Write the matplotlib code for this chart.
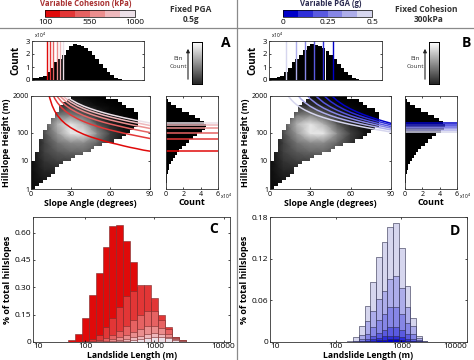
import numpy as np
import matplotlib
matplotlib.use('Agg')
import matplotlib.pyplot as plt
from matplotlib.colors import ListedColormap, LinearSegmentedColormap, Normalize
from matplotlib.colorbar import ColorbarBase
from matplotlib.lines import Line2D

plt.rcParams['font.family'] = ['Open Sans', 'DejaVu Sans']

nan = np.nan

# ---------------- data ----------------
cohesion = [100, 280, 460, 640, 820, 1000]
pga = [0.0, 0.1, 0.2, 0.3, 0.4, 0.5]
red_cols = ['#e00a0a', '#e23636', '#e66262', '#ea8e8e', '#eeb8bc', '#ece0e8']
blue_cols = ['#0000c8', '#2e2ed8', '#5a5ae0', '#8686e6', '#adadea', '#d6d6ee']

# slope histogram (3 degree bins, x 1e4)
slope_count = [0.12, 0.18, 0.25, 0.30, 0.60, 0.95, 1.35, 1.65, 1.95, 2.30,
               2.60, 2.78, 2.72, 2.60, 2.45, 2.20, 1.95, 1.60, 1.25, 0.90,
               0.60, 0.38, 0.18, 0.07, 0.02, 0.0, 0.0, 0.0, 0.0, 0.0]
# hillslope height histogram (0.11 log10 bins from 1 m, x 1e4)
height_count = [0.03, 0.05, 0.07, 0.10, 0.15, 0.22, 0.30, 0.40, 0.60, 0.80,
                1.00, 1.25, 1.55, 1.90, 2.30, 2.70, 3.10, 3.60, 4.10, 4.50,
                4.60, 4.40, 3.90, 3.30, 2.60, 1.80, 1.20, 0.60, 0.20, 0.0]

# 2D bin count (0 = few, 1 = many), nodes every 10 deg / 0.33 log10 m
grid_slope = [0, 10, 20, 30, 40, 50, 60, 70, 80, 90]
grid_logh = [0.0, 0.33, 0.66, 0.99, 1.32, 1.65, 1.98, 2.31, 2.64, 2.97, 3.3]
bin_count_grid = [
    [0.05, 0.05, 0.00, 0.00, 0.00, 0.00, 0.00, 0.00, 0.00, 0.00],
    [0.05, 0.10, 0.08, 0.00, 0.00, 0.00, 0.00, 0.00, 0.00, 0.00],
    [0.05, 0.15, 0.15, 0.10, 0.00, 0.00, 0.00, 0.00, 0.00, 0.00],
    [0.05, 0.20, 0.25, 0.25, 0.20, 0.10, 0.00, 0.00, 0.00, 0.00],
    [0.05, 0.25, 0.35, 0.40, 0.40, 0.30, 0.12, 0.04, 0.00, 0.00],
    [0.05, 0.25, 0.45, 0.55, 0.55, 0.40, 0.20, 0.06, 0.02, 0.00],
    [0.00, 0.30, 0.60, 0.90, 0.90, 0.55, 0.25, 0.10, 0.03, 0.00],
    [0.00, 0.30, 0.70, 0.90, 0.70, 0.35, 0.15, 0.05, 0.02, 0.00],
    [0.00, 0.15, 0.45, 0.50, 0.35, 0.15, 0.05, 0.02, 0.00, 0.00],
    [0.00, 0.05, 0.20, 0.20, 0.12, 0.05, 0.02, 0.00, 0.00, 0.00],
    [0.00, 0.00, 0.05, 0.05, 0.03, 0.00, 0.00, 0.00, 0.00, 0.00],
]
# occupied region per 3 degree column (log10 m)
region_low = [0.0, 0.1, 0.25, 0.35, 0.45, 0.6, 0.75, 0.85, 0.95, 1.0,
              1.1, 1.2, 1.25, 1.3, 1.35, 1.45, 1.5, 1.55, 1.6, 1.65,
              1.7, 1.75, 1.8, 1.85, 1.95, 2.05, 2.15, nan, nan, nan]
region_high = [0.95, 1.3, 1.75, 2.1, 2.35, 2.55, 2.8, 3.0, 3.1, 3.2,
               3.25, 3.25, 3.25, 3.25, 3.25, 3.25, 3.25, 3.25, 3.25, 3.2,
               3.2, 3.15, 3.1, 3.0, 2.9, 2.85, 2.75, nan, nan, nan]

# critical hillslope height curves (m)
curve_slope = [10, 12, 14, 16, 18, 20, 23, 26, 30, 35, 40, 45, 50, 55, 60, 65, 70, 75, 80, 85, 90]
curves_a = [
    [nan, 6200, 1800, 915, 576, 409, 277, 206, 151, 111, 87, 71, 60, 51, 44, 39, 34, 30, 27, 24, 22],
    [nan, 17500, 5080, 2580, 1620, 1150, 780, 580, 425, 314, 246, 200, 168, 143, 124, 109, 96, 86, 77, 69, 62],
    [nan, 28500, 8300, 4200, 2650, 1880, 1270, 944, 692, 511, 400, 326, 274, 233, 202, 178, 157, 139, 125, 112, 101],
    [nan, 39800, 11600, 5870, 3690, 2620, 1780, 1320, 966, 713, 558, 455, 382, 326, 282, 248, 219, 195, 174, 157, 141],
    [nan, 50800, 14800, 7490, 4720, 3350, 2270, 1680, 1230, 911, 713, 581, 488, 416, 360, 317, 279, 248, 223, 200, 180],
    [nan, 62000, 18000, 9150, 5760, 4090, 2770, 2060, 1510, 1110, 871, 711, 596, 508, 440, 387, 341, 304, 272, 244, 220],
]
curves_b = [
    [nan, nan, nan, nan, nan, nan, nan, nan, nan, 16100, 4528, 2221, 1359, 935, 692, 536, 430, 353, 295, 250, 214],
    [nan, nan, nan, nan, nan, nan, nan, 320000, 14400, 4142, 2070, 1286, 897, 671, 525, 425, 352, 297, 253, 219, 190],
    [nan, nan, nan, nan, nan, nan, 31000, 8688, 3575, 1828, 1157, 820, 621, 492, 402, 336, 286, 246, 214, 187, 165],
    [nan, nan, nan, nan, 24250, 9650, 4317, 2565, 1578, 1022, 738, 567, 455, 376, 318, 273, 237, 208, 183, 163, 145],
    [nan, 35200, 10260, 5200, 3285, 2324, 1574, 1169, 856, 632, 496, 404, 338, 289, 250, 220, 194, 173, 155, 139, 125],
    [4370, 2675, 1884, 1438, 1156, 962, 765, 633, 512, 410, 341, 290, 251, 220, 195, 174, 156, 141, 127, 116, 105],
]
crit_slope_a = [11.8, 14.5, 17.2, 19.9, 22.5, 25.2]
crit_slope_b = [50.9, 43.4, 35.9, 28.7, 21.3, 13.6]

# landslide length distributions (% of total hillslopes)
len_c = [
    [0.013, 0.044, 0.13, 0.26, 0.38, 0.52, 0.635, 0.64, 0.555, 0.44, 0.30, 0.22, 0.14, 0.07, 0.03, 0.01, 0.0],
    [0.0, 0.0, 0.005, 0.015, 0.04, 0.08, 0.13, 0.19, 0.25, 0.28, 0.31, 0.31, 0.24, 0.15, 0.08, 0.03, 0.01],
    [0.0, 0.0, 0.0, 0.003, 0.01, 0.02, 0.04, 0.06, 0.09, 0.12, 0.15, 0.17, 0.17, 0.12, 0.07, 0.03, 0.01],
    [0.0, 0.0, 0.0, 0.0, 0.003, 0.008, 0.015, 0.025, 0.04, 0.055, 0.07, 0.085, 0.09, 0.075, 0.045, 0.02, 0.006],
    [0.0, 0.0, 0.0, 0.0, 0.0, 0.002, 0.005, 0.01, 0.017, 0.025, 0.035, 0.045, 0.05, 0.045, 0.03, 0.014, 0.004],
    [0.0, 0.0, 0.0, 0.0, 0.0, 0.0, 0.002, 0.004, 0.008, 0.012, 0.018, 0.024, 0.028, 0.03, 0.022, 0.012, 0.004],
]
len_d = [  # PGA 0.5 ... 0
    [0.002, 0.007, 0.023, 0.052, 0.087, 0.123, 0.144, 0.165, 0.171, 0.136, 0.081, 0.034, 0.009, 0.002],
    [0.0, 0.002, 0.01, 0.03, 0.045, 0.062, 0.074, 0.091, 0.095, 0.078, 0.05, 0.023, 0.006, 0.001],
    [0.0, 0.001, 0.004, 0.012, 0.022, 0.032, 0.04, 0.05, 0.05, 0.041, 0.027, 0.011, 0.003, 0.0],
    [0.0, 0.0, 0.002, 0.005, 0.009, 0.013, 0.017, 0.021, 0.021, 0.017, 0.011, 0.005, 0.001, 0.0],
    [0.0, 0.0, 0.001, 0.002, 0.004, 0.006, 0.008, 0.009, 0.009, 0.007, 0.005, 0.002, 0.001, 0.0],
    [0.0, 0.0, 0.0, 0.001, 0.002, 0.003, 0.0035, 0.004, 0.004, 0.003, 0.002, 0.001, 0.0, 0.0],
]

# ---------------- layout helpers ----------------
W, H = 474, 360
fig = plt.figure(figsize=(W / 100, H / 100), dpi=100)


def px_axes(x0, y0, x1, y1):
    return fig.add_axes([x0 / W, 1 - y1 / H, (x1 - x0) / W, (y1 - y0) / H])


def ftext(x, y, s, **kw):
    fig.text(x / W, 1 - y / H, s, ha=kw.pop('ha', 'center'), va=kw.pop('va', 'center'), **kw)


def style(ax, size=5):
    for sp in ax.spines.values():
        sp.set_linewidth(0.6)
        sp.set_color('#333333')
    ax.tick_params(direction='in', length=1.5, width=0.5, labelsize=size, pad=1.5,
                   top=True, right=True)


def fline(xs, ys):
    fig.add_artist(Line2D([x / W for x in xs], [1 - y / H for y in ys],
                          color='#8a8a8a', lw=0.9))


slope_edges = np.arange(0, 91, 3)
logh_edges = np.linspace(0, 3.3, 31)
h_edges = 10 ** logh_edges
logh_mid = 0.5 * (logh_edges[:-1] + logh_edges[1:])

inside = np.zeros((30, 30), bool)
for j in range(30):
    if not np.isnan(region_low[j]):
        inside[:, j] = (logh_mid >= region_low[j]) & (logh_mid <= region_high[j])
outside = np.ma.masked_where(inside, np.ones((30, 30)))


def panel(xoff, top_box, main_box, side_box, bar_box, crit, curves, h90, cols, letter):
    # top slope histogram
    ax = px_axes(*top_box)
    ax.bar(slope_edges[:-1], np.array(slope_count) * 1e4, width=3, align='edge', color='black')
    for s, c in zip(crit, cols):
        ax.axvline(s, color=c, lw=1.0)
    ax.set_xlim(0, 90)
    ax.set_ylim(0, 3e4)
    ax.set_yticks([0, 1e4, 2e4, 3e4], ['0', '1', '2', '3'])
    ax.set_xticks([])
    style(ax, 5.5)
    ax.set_ylabel('Count', fontsize=7, fontweight='bold', labelpad=3)
    ax.text(0.02, 1.02, r'x10$^4$', transform=ax.transAxes, fontsize=3.5, va='bottom')

    # 2D bin count
    ax = px_axes(*main_box)
    gs, gh = np.meshgrid(grid_slope, 10 ** np.array(grid_logh))
    ax.pcolormesh(gs, gh, np.array(bin_count_grid), shading='gouraud', cmap='gray', vmin=0, vmax=1)
    ax.pcolormesh(slope_edges, h_edges, outside, cmap=ListedColormap(['white']), shading='flat')
    for hc, c in zip(curves, cols):
        ax.plot(curve_slope, hc, color=c, lw=1.1)
    ax.set_yscale('log')
    ax.set_xlim(0, 90)
    ax.set_ylim(1, 2000)
    ax.set_xticks([0, 30, 60, 90], ['0', '30', '60', '90'])
    ax.set_yticks([1, 10, 100, 2000], ['1', '10', '100', '2000'])
    ax.minorticks_off()
    style(ax, 5)
    ax.set_xlabel('Slope Angle (degrees)', fontsize=6.3, fontweight='bold', labelpad=1)
    ax.set_ylabel('Hillslope Height (m)', fontsize=6.5, fontweight='bold', labelpad=1)

    # side height histogram
    ax = px_axes(*side_box)
    ax.barh(h_edges[:-1], np.array(height_count) * 1e4, height=np.diff(h_edges),
            align='edge', color='black')
    for hv, c in zip(h90, cols):
        ax.axhline(hv, color=c, lw=1.1)
    ax.set_yscale('log')
    ax.set_ylim(1, 2000)
    ax.set_xlim(0, 6e4)
    ax.set_xticks([0, 2e4, 4e4, 6e4], ['0', '2', '4', '6'])
    ax.set_yticks([])
    ax.minorticks_off()
    style(ax, 5)
    ax.set_xlabel('Count', fontsize=6.5, fontweight='bold', labelpad=0)
    ax.text(1.03, -0.03, r'x10$^4$', transform=ax.transAxes, fontsize=3.5, va='top')

    # bin count legend
    ax = px_axes(*bar_box)
    ax.imshow(np.linspace(1, 0, 64)[:, None], aspect='auto',
              cmap=LinearSegmentedColormap.from_list('bc', ['#262626', 'white']))
    ax.set_xticks([])
    ax.set_yticks([])
    for sp in ax.spines.values():
        sp.set_linewidth(0.7)
    x0 = bar_box[0]
    fig.add_artist(matplotlib.patches.FancyArrowPatch(
        ((x0 - 4) / W, 1 - 82 / H), ((x0 - 4) / W, 1 - 46 / H),
        arrowstyle='-|>', mutation_scale=5, lw=0.8, color='#222222',
        transform=fig.transFigure))
    ftext(x0 - 14, 59, 'Bin', fontsize=4.5, color='#333333')
    ftext(x0 - 14, 66, 'Count', fontsize=4.5, color='#333333')
    ftext(xoff + 226, 43, letter, fontsize=10, fontweight='bold')


panel(0, (32, 41, 144, 80), (31, 96, 150, 189), (166, 96, 218, 189), (192, 42, 202, 84),
      crit_slope_a, curves_a, [c[-1] for c in curves_a], red_cols, 'A')
panel(240, (269, 41, 382, 80), (270, 96, 391, 189), (405, 96, 457, 189), (429, 42, 439, 84),
      crit_slope_b, curves_b, [c[-1] for c in curves_b], blue_cols, 'B')


def length_axes(ax, xlim, xt, ymax, yt, ytl, xcenter):
    ax.set_xscale('log')
    ax.set_xlim(*xlim)
    ax.set_xticks(xt, ['10', '100', '1000', '10000'])
    ax.set_ylim(0, ymax)
    ax.set_yticks(yt, ytl)
    ax.minorticks_off()
    style(ax, 6)
    ax.tick_params(axis='x', pad=1)
    ax.get_xticklabels()[0].set_ha('left')
    ax.set_ylabel('% of total hillslopes', fontsize=6.5, fontweight='bold', labelpad=2)
    ftext(xcenter, 355, 'Landslide Length (m)', fontsize=6.2, fontweight='bold')


# ---------------- C ----------------
ax = px_axes(33, 217, 230, 342)
edges_c = 10 ** (1.75 + 0.1 * np.arange(18))
for vals, c in zip(len_c, red_cols):
    ax.bar(edges_c[:-1], vals, width=np.diff(edges_c), align='edge', color=c,
           edgecolor='#7a2a2a', lw=0.4)
length_axes(ax, (10 ** 1.243, 10 ** 4.094), [10 ** 1.243, 100, 1000, 10000], 0.685,
            [0, 0.15, 0.30, 0.45, 0.60], ['0', '0.15', '0.30', '0.45', '0.60'], 132)
ftext(214, 229, 'C', fontsize=10, fontweight='bold')

# ---------------- D ----------------
ax = px_axes(270, 217, 467, 342)
edges_d = 10 ** (2.18 + 0.087 * np.arange(15))
for vals, c in zip(len_d, blue_cols[::-1]):
    ax.bar(edges_d[:-1], vals, width=np.diff(edges_d), align='edge', color=c,
           edgecolor='#2a2a4a', lw=0.4)
length_axes(ax, (10, 10000), [10, 100, 1000, 10000], 0.18,
            [0, 0.06, 0.12, 0.18], ['0', '0.06', '0.12', '0.18'], 368)
ax.get_xticklabels()[-1].set_ha('right')
ftext(455, 231, 'D', fontsize=10, fontweight='bold')

# ---------------- header ----------------
cax = px_axes(45, 10, 135, 17)
cb = ColorbarBase(cax, cmap=ListedColormap(red_cols), norm=Normalize(100, 1000),
                  orientation='horizontal', ticks=[100, 550, 1000])
cb.outline.set_linewidth(0.5)
cax.tick_params(length=0, labelsize=6, pad=1.5)
ftext(86, 4, 'Variable Cohesion (kPa)', fontsize=5.6, fontweight='bold', color='#a83030')
ftext(191, 9, 'Fixed PGA', fontsize=6, fontweight='bold', color='#333333')
ftext(191, 20, '0.5g', fontsize=6, fontweight='bold', color='#333333')

cax = px_axes(283, 10, 372, 17)
cb = ColorbarBase(cax, cmap=ListedColormap(blue_cols), norm=Normalize(0, 0.5),
                  orientation='horizontal', ticks=[0, 0.25, 0.5])
cb.set_ticklabels(['0', '0.25', '0.5'])
cb.outline.set_linewidth(0.5)
cax.tick_params(length=0, labelsize=6, pad=1.5)
ftext(331, 4, 'Variable PGA (g)', fontsize=5.6, fontweight='bold', color='#2a2a50')
ftext(426, 9, 'Fixed Cohesion', fontsize=6, fontweight='bold', color='#333333')
ftext(429, 20, '300kPa', fontsize=6, fontweight='bold', color='#333333')

# frame lines
fline([0, 474], [28, 28])
fline([236.5, 236.5], [0, 360])

fig.savefig('out.png', dpi=100)
